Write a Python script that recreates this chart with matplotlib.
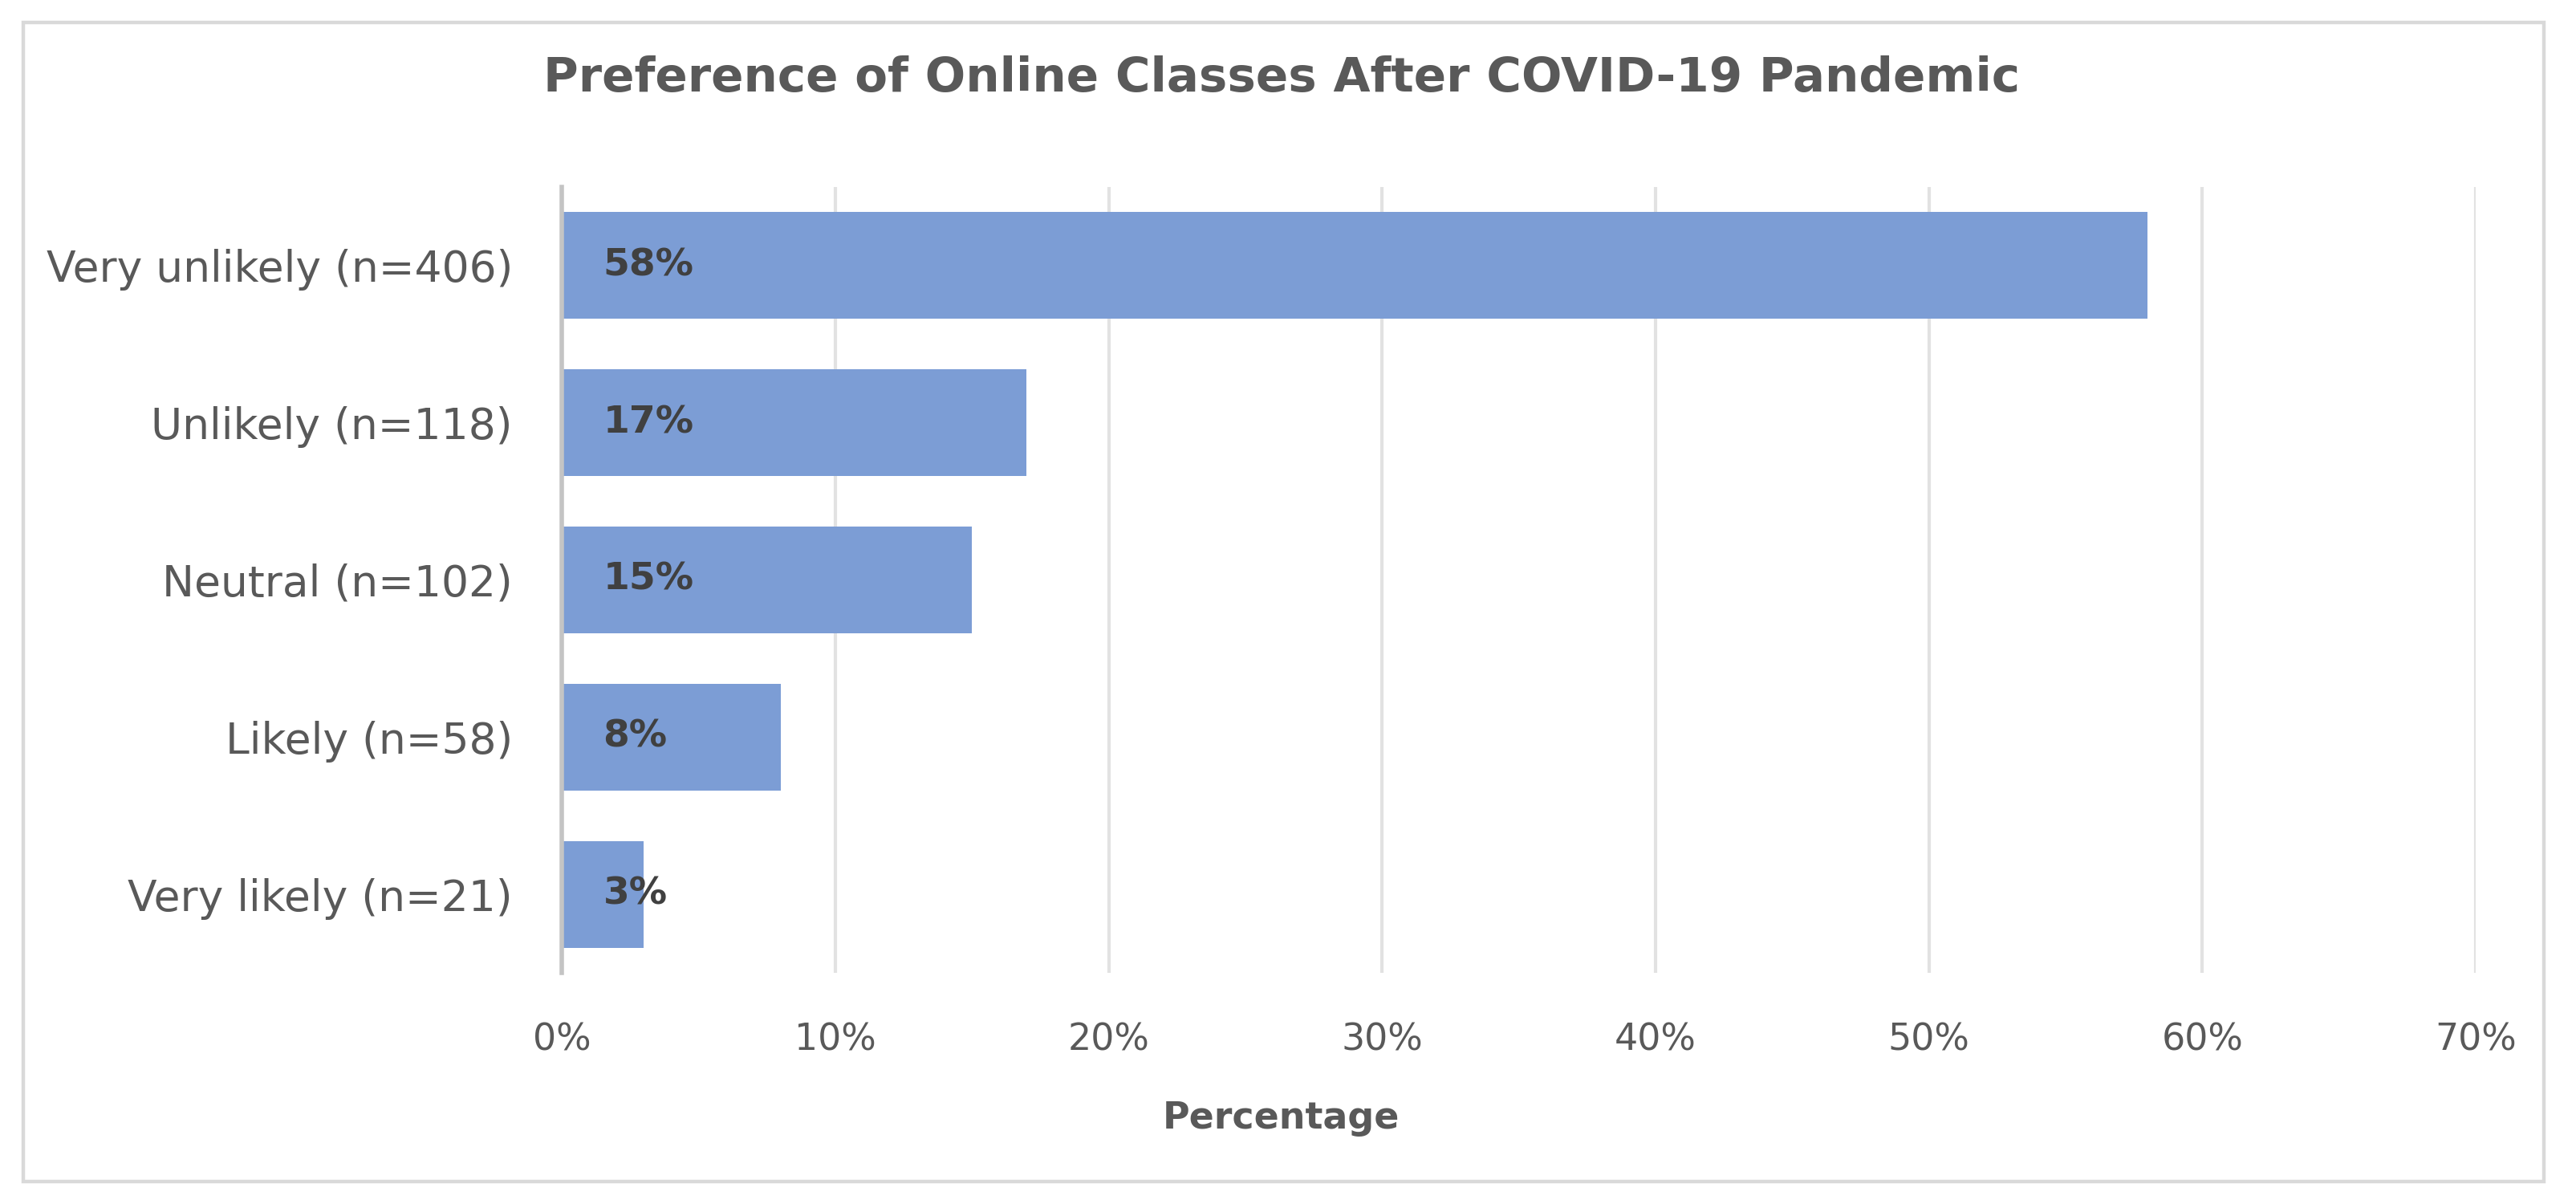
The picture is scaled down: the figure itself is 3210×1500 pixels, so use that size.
import matplotlib
matplotlib.use("Agg")
import matplotlib.pyplot as plt
from matplotlib.patches import Rectangle

plt.rcParams['font.family'] = ['DejaVu Sans']

# data
categories = ['Very unlikely (n=406)', 'Unlikely (n=118)', 'Neutral (n=102)',
              'Likely (n=58)', 'Very likely (n=21)']
percent = [58, 17, 15, 8, 3]
x_ticks = [0, 10, 20, 30, 40, 50, 60, 70]

bar_color = '#7C9DD5'
text_gray = '#595959'
label_dark = '#404040'

fig = plt.figure(figsize=(32.1, 15), dpi=100)
ax = fig.add_axes([0.2181, 0.192, 0.743, 0.6527])

y = list(range(len(categories)))
ax.barh(y, percent, height=0.68, color=bar_color, zorder=3)
ax.set_ylim(len(categories) - 0.5, -0.5)
ax.set_xlim(0, 70)

# value labels at the inside base of each bar
for yi, v in zip(y, percent):
    ax.annotate(f'{v}%', xy=(0, yi), xytext=(37, 0), textcoords='offset points',
                ha='left', va='center', fontsize=34, fontweight='bold',
                color=label_dark, zorder=4)

ax.set_yticks(y)
ax.set_yticklabels(categories, fontsize=38.5, color=text_gray)
ax.set_xticks(x_ticks)
ax.set_xticklabels([f'{t}%' for t in x_ticks], fontsize=33, color=text_gray)
ax.tick_params(axis='y', length=0, pad=44)
ax.tick_params(axis='x', length=0, pad=44)

ax.grid(axis='x', color='#E2E2E2', linewidth=3, zorder=0)
for s in ['top', 'right', 'bottom']:
    ax.spines[s].set_visible(False)
ax.spines['left'].set_color('#C4C4C4')
ax.spines['left'].set_linewidth(4)
ax.spines['left'].set_zorder(5)

ax.set_xlabel('Percentage', fontsize=33, fontweight='bold', color=text_gray, labelpad=28)
ax.xaxis.set_label_coords(0.376, -0.162)

fig.text(0.4975, 0.935, 'Preference of Online Classes After COVID-19 Pandemic',
         ha='center', va='center', fontsize=42.8, fontweight='bold', color=text_gray)

# outer chart border
fig.patches.append(Rectangle((29 / 3210, 28 / 1500), (3170 - 29) / 3210, (1472 - 28) / 1500,
                             transform=fig.transFigure, fill=False,
                             edgecolor='#D9D9D9', linewidth=3.2))

fig.savefig('out.png', dpi=100, facecolor='white')
